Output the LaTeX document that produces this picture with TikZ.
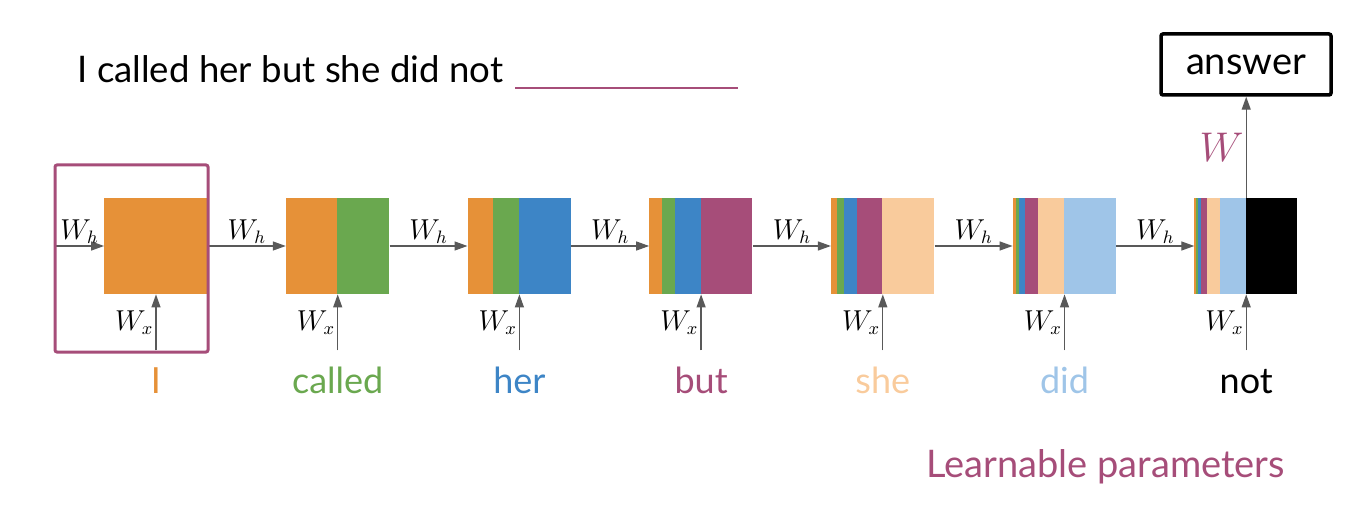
\documentclass[tikz,border=0pt]{standalone}
\usepackage{fontspec}
\setmainfont{Lato}
\usetikzlibrary{positioning,arrows.meta}

\definecolor{c1}{HTML}{E69138}
\definecolor{c2}{HTML}{6AA84F}
\definecolor{c3}{HTML}{3D85C6}
\definecolor{c4}{HTML}{A64D79}
\definecolor{c5}{HTML}{F9CB9C}
\definecolor{c6}{HTML}{9FC5E8}
\definecolor{c7}{HTML}{000000}
\definecolor{roxo}{HTML}{A64D79}
\definecolor{cinza}{HTML}{595959}

\tikzset{
  celula/.style={rectangle, minimum width=51.5pt, minimum height=48pt, inner sep=0pt},
  seta/.style={-{Triangle[length=6.5pt,width=4.5pt]}, draw=cinza, line width=0.65pt},
  peso/.style={font=\fontsize{13.5}{14}\selectfont, inner sep=1pt},
  palavra/.style={anchor=base, inner sep=0pt, font=\fontsize{18}{20}\selectfont},
  resposta/.style={draw, line width=1.75pt, rounded corners=1pt, minimum width=85pt, minimum height=30.5pt, font=\fontsize{19}{22}\selectfont}
}

\begin{document}
\begin{tikzpicture}[x=0.5pt,y=-0.5pt]
\useasboundingbox (0,0) rectangle (1358,523);

% Frase com lacuna
\node[anchor=base west, inner sep=0pt, font=\fontsize{18.3}{22}\selectfont] (frase) at (77,83)
  {I called her but she did not\hspace{6pt}\textcolor{roxo}{\rule[-3pt]{111.5pt}{1pt}}};

% Células (cada uma guarda as palavras anteriores)
\foreach \k in {1,...,7} {
  \node[celula] (b\k) at ({156+181.7*(\k-1)}, 246) {};
  \foreach \j in {\k,...,1}
    \fill[c\j] (b\k.north west) rectangle ++({103*2^(\j-\k)}, 96);
}

% Seta de entrada
\coordinate (entrada) at (55,246);
\draw[seta] (entrada) -- node[peso, above] {$W_h$} (b1);

% Setas entre células
\foreach \k [evaluate=\k as \n using int(\k+1)] in {1,...,6}
  \draw[seta] (b\k) -- node[peso, above] {$W_h$} (b\n);

% Entradas x e palavras
\foreach \k/\w in {1/I, 2/called, 3/her, 4/but, 5/she, 6/did, 7/not} {
  \coordinate (x\k) at ([yshift=-28pt]b\k.south);
  \draw[seta] (x\k) -- node[peso, left] {$W_x$} (b\k.south);
  \node[palavra, text=c\k] (p\k) at (b\k |- 0,393) {\w};
}

% Quadro da primeira célula
\draw[roxo, line width=1.5pt, rounded corners=1pt] (55,165) rectangle (208,352);

% Saída
\node[resposta] (resp) at (1246,64.5) {answer};
\draw[seta] (b7.north) -- node[left, inner sep=1pt, text=roxo, font=\fontsize{22}{24}\selectfont] {$W$} (b7.north |- resp.south);

% Legenda
\node[anchor=base west, inner sep=0pt, text=roxo, font=\fontsize{19}{23}\selectfont] (legenda) at (926,477) {Learnable parameters};

\end{tikzpicture}
\end{document}
